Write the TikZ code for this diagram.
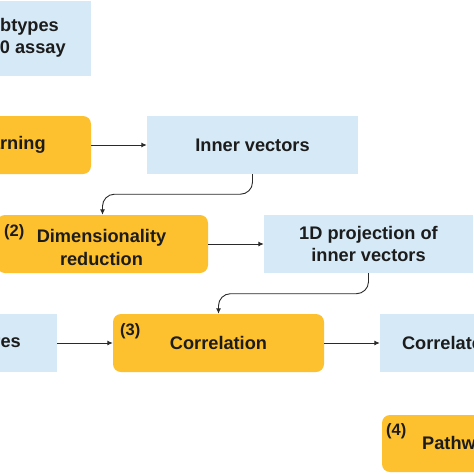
\documentclass[tikz,border=0pt]{standalone}
\usepackage{fontspec}
\setmainfont{Liberation Sans}
\usetikzlibrary{arrows.meta}
\definecolor{boxorange}{HTML}{FDC02F}
\definecolor{boxblue}{HTML}{D5E9F6}
\definecolor{txtdark}{HTML}{1C1C1C}
\definecolor{linedark}{HTML}{2A2A2A}
\begin{document}
\begin{tikzpicture}[x=1pt,y=-1pt,
  boxtext/.style={inner sep=0pt, align=center,
    font=\bfseries\fontsize{18.2}{22.5}\selectfont, text=txtdark},
  base/.style={boxtext, minimum width=211pt},
  orangebox/.style={base, fill=boxorange, rounded corners=8pt, minimum height=58pt},
  bluebox/.style={base, fill=boxblue, minimum height=58pt},
  numlabel/.style={anchor=north west, inner sep=0pt,
    font=\bfseries\fontsize{16.5}{17}\selectfont, text=txtdark},
  conn/.style={draw=linedark, line width=0.9pt, -{Latex[length=5.5pt,width=5pt]}},
]
\useasboundingbox (0,0) rectangle (474,474);
\clip (0,0) rectangle (474,474);
\node[bluebox, minimum height=75pt] (sub) at (-14.5,38) {Cancer subtypes\\from PAM50 assay};
\node[orangebox] (dl) at (-14.5,145) {Deep learning};
\node[bluebox] (iv) at (252.5,145) {Inner vectors};
\node[orangebox] (dr) at (102.5,244) {};
\node[boxtext] (drt) at (101.5,247.5) {Dimensionality\\reduction};
\node[numlabel] (n2) at (4,224) {(2)};
\node[bluebox, minimum width=209pt] (pr) at (368.5,244) {1D projection of\\inner vectors};
\node[bluebox, minimum width=215pt] (gs) at (-50.5,343) {Gene signatures};
\node[orangebox] (co) at (218.5,343) {Correlation};
\node[numlabel] (n3) at (120,323) {(3)};
\node[bluebox] (cf) at (485.5,343) {Correlated features};
\node[orangebox, minimum height=57pt] (pw) at (487.5,443.5) {};
\node[boxtext, anchor=west] (pwt) at (422,445) {Pathway analysis};
\node[numlabel] (n4) at (386,423) {(4)};
\draw[conn] (dl.east) -- (iv.west);
\draw[conn, rounded corners=12pt] (iv.south) -- ++(0,20) -| (dr.north);
\draw[conn] (dr.east) -- (pr.west);
\draw[conn, rounded corners=12pt] (pr.south) -- ++(0,20.5) -| (co.north);
\draw[conn] (gs.east) -- (co.west);
\draw[conn] (co.east) -- (cf.west);
\end{tikzpicture}
\end{document}
